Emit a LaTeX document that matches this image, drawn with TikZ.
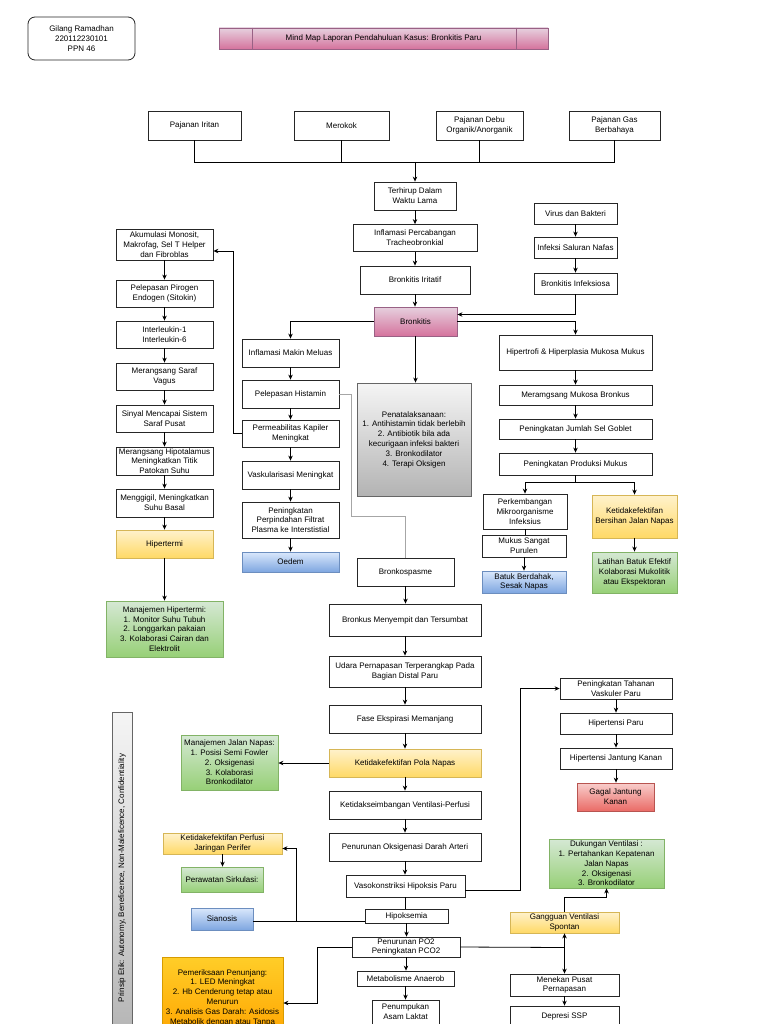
\documentclass[tikz,border=0pt]{standalone}
\usepackage{fontspec}
\setmainfont{Liberation Sans}
\usetikzlibrary{arrows.meta}
\definecolor{yelT}{HTML}{FFF2CC}
\definecolor{yelB}{HTML}{FFD966}
\definecolor{yelD}{HTML}{D6B656}
\definecolor{grnT}{HTML}{D5E8D4}
\definecolor{grnB}{HTML}{97D077}
\definecolor{grnD}{HTML}{82B366}
\definecolor{bluT}{HTML}{DAE8FC}
\definecolor{bluB}{HTML}{7EA6E0}
\definecolor{bluD}{HTML}{6C8EBF}
\definecolor{redT}{HTML}{F8CECC}
\definecolor{redB}{HTML}{EA6B66}
\definecolor{redD}{HTML}{B85450}
\definecolor{gryT}{HTML}{F5F5F5}
\definecolor{gryB}{HTML}{B3B3B3}
\definecolor{gryD}{HTML}{666666}
\definecolor{pnkT}{HTML}{E6D0DE}
\definecolor{pnkB}{HTML}{D5739D}
\definecolor{pnkD}{HTML}{996185}
\definecolor{orgT}{HTML}{FFCD28}
\definecolor{orgB}{HTML}{FFA500}
\definecolor{orgD}{HTML}{D79B00}
\newcommand{\mmfont}{\fontsize{8}{9.8}\selectfont}

\begin{document}
\begin{tikzpicture}[x=1pt,y=-1pt,
    box/.style={draw=black!85,line width=0.8pt,fill=white,align=center,inner sep=1pt,font=\mmfont},
    wh/.style 2 args={minimum width=#1pt,minimum height=#2pt},
    yelbox/.style={box,draw=yelD,top color=yelT,bottom color=yelB},
    grnbox/.style={box,draw=grnD,top color=grnT,bottom color=grnB},
    blubox/.style={box,draw=bluD,top color=bluT,bottom color=bluB},
    redbox/.style={box,draw=redD,top color=redT,bottom color=redB},
    grybox/.style={box,draw=gryD,top color=gryT,bottom color=gryB},
    pnkbox/.style={box,draw=pnkD,top color=pnkT,bottom color=pnkB},
    orgbox/.style={box,draw=orgD,top color=orgT,bottom color=orgB},
    conn/.style={line width=0.8pt},
    arr/.style={conn,-{Stealth[length=5pt,width=4.5pt]}}]
  \useasboundingbox (0,0) rectangle (768,1024);
  \clip (0,0) rectangle (768,1024);
  \fill[white] (0,0) rectangle (768,1024);

  % header
  \node[box,wh={107}{43},rounded corners=7pt] (nama) at (81.5,38.5) {Gilang Ramadhan\\220112230101\\PPN 46};
  \node[pnkbox,wh={329}{21}] (judul) at (383.5,38.5) {Mind Map Laporan Pendahuluan Kasus: Bronkitis Paru};
  \draw[pnkD,line width=0.8pt] ([xshift=34pt]judul.north west) -- ([xshift=34pt]judul.south west);
  \draw[pnkD,line width=0.8pt] ([xshift=-32pt]judul.north east) -- ([xshift=-32pt]judul.south east);

  % penyebab
  \node[box,wh={93}{29}] (iritan) at (194.5,125.5) {Pajanan Iritan};
  \node[box,wh={95}{29}] (rokok) at (341.5,125.5) {Merokok};
  \node[box,wh={87}{29}] (debu) at (479.5,125.5) {Pajanan Debu\\Organik/Anorganik};
  \node[box,wh={91}{29}] (gas) at (614.5,125.5) {Pajanan Gas\\Berbahaya};
  \coordinate (bus) at (415,162);

  % kolom tengah atas
  \node[box,wh={82}{28}] (terhirup) at (415,196) {Terhirup Dalam\\Waktu Lama};
  \node[box,wh={124}{27}] (ipt) at (415,238) {Inflamasi Percabangan\\Tracheobronkial};
  \node[box,wh={110}{28}] (iritatif) at (415,280) {Bronkitis Iritatif};
  \node[pnkbox,wh={83}{29}] (bronkitis) at (415.5,321.5) {Bronkitis};
  \node[grybox,wh={114}{113}] (tata) at (414,439.5) {Penatalaksanaan:\\1. Antihistamin tidak berlebih\\2. Antibiotik bila ada\\kecurigaan infeksi bakteri\\3. Bronkodilator\\4. Terapi Oksigen};

  % kolom kiri
  \node[box,wh={97}{31}] (akumulasi) at (164.5,244.5) {Akumulasi Monosit,\\Makrofag, Sel T Helper\\dan Fibroblas};
  \node[box,wh={97}{27}] (pirogen) at (164.5,293.5) {Pelepasan Pirogen\\Endogen (Sitokin)};
  \node[box,wh={97}{27}] (inter) at (164.5,334.5) {Interleukin-1\\Interleukin-6};
  \node[box,wh={97}{27}] (vagus) at (164.5,376.5) {Merangsang Saraf\\Vagus};
  \node[box,wh={97}{27}] (sinyal) at (164.5,418.5) {Sinyal Mencapai Sistem\\Saraf Pusat};
  \node[box,wh={97}{28}] (hipotal) at (164.5,461) {Merangsang Hipotalamus\\Meningkatkan Titik\\Patokan Suhu};
  \node[box,wh={97}{28}] (gigil) at (164.5,503) {Menggigil, Meningkatkan\\Suhu Basal};
  \node[yelbox,wh={97}{28}] (hipertermi) at (164.5,544) {Hipertermi};
  \node[grnbox,wh={117}{56}] (manhip) at (164.5,629) {Manajemen Hipertermi:\\1. Monitor Suhu Tubuh\\2. Longgarkan pakaian\\3. Kolaborasi Cairan dan\\Elektrolit};

  % kolom tengah kiri
  \node[box,wh={97}{28}] (meluas) at (290.5,353) {Inflamasi Makin Meluas};
  \node[box,wh={97}{28}] (histamin) at (290.5,394) {Pelepasan Histamin};
  \node[box,wh={97}{27}] (permea) at (290.5,433.5) {Permeabilitas Kapiler\\Meningkat};
  \node[box,wh={97}{28}] (vaskul) at (290.5,475) {Vaskularisasi Meningkat};
  \node[box,wh={97}{36}] (pindah) at (290.5,520) {Peningkatan\\Perpindahan Filtrat\\Plasma ke Interstistial};
  \node[blubox,wh={97}{20}] (oedem) at (290.5,562) {Oedem};

  % kolom kanan
  \node[box,wh={83}{21}] (virus) at (575.5,213.5) {Virus dan Bakteri};
  \node[box,wh={83}{21}] (infeksi) at (575.5,247.5) {Infeksi Saluran Nafas};
  \node[box,wh={83}{21}] (infeksiosa) at (575.5,283.5) {Bronkitis Infeksiosa};
  \node[box,wh={153}{35}] (hipertrofi) at (575.5,352.5) {Hipertrofi \& Hiperplasia Mukosa Mukus};
  \node[box,wh={153}{20}] (meramg) at (575.5,395) {Meramgsang Mukosa Bronkus};
  \node[box,wh={153}{20}] (goblet) at (575.5,429) {Peningkatan Jumlah Sel Goblet};
  \node[box,wh={153}{22}] (produksi) at (575.5,464) {Peningkatan Produksi Mukus};
  \node[box,wh={84}{35}] (kembang) at (525,511.5) {Perkembangan\\Mikroorganisme\\Infeksius};
  \node[box,wh={84}{22}] (purulen) at (524,546) {Mukus Sangat\\Purulen};
  \node[blubox,wh={84}{22}] (batuk) at (524,582) {Batuk Berdahak,\\Sesak Napas};
  \node[yelbox,wh={85}{43}] (bersihan) at (634.5,516.5) {Ketidakefektifan\\Bersihan Jalan Napas};
  \node[grnbox,wh={85}{41}] (latihan) at (634.5,572.5) {Latihan Batuk Efektif\\Kolaborasi Mukolitik\\atau Ekspektoran};
  \coordinate (cabang) at (575.5,482);

  % kolom tengah bawah
  \node[box,wh={97}{28}] (spasme) at (405.5,572) {Bronkospasme};
  \node[box,wh={152}{32}] (sempit) at (405,620) {Bronkus Menyempit dan Tersumbat};
  \node[box,wh={152}{31}] (udara) at (405,671.5) {Udara Pernapasan Terperangkap Pada\\Bagian Distal Paru};
  \node[box,wh={152}{28}] (fase) at (405,719) {Fase Ekspirasi Memanjang};
  \node[yelbox,wh={152}{28}] (pola) at (405,763) {Ketidakefektifan Pola Napas};
  \node[box,wh={152}{28}] (seimbang) at (405,805) {Ketidakseimbangan Ventilasi-Perfusi};
  \node[box,wh={152}{28}] (oksi) at (405,847) {Penurunan Oksigenasi Darah Arteri};
  \node[box,wh={119}{22}] (vaso) at (405.5,886) {Vasokonstriksi Hipoksis Paru};
  \node[box,wh={83}{14}] (hipo) at (406.5,916) {Hipoksemia};
  \node[box,wh={108}{20}] (po2) at (406,947) {Penurunan PO2\\Peningkatan PCO2};
  \node[box,wh={97}{15}] (anaerob) at (405.5,978.5) {Metabolisme Anaerob};
  \node[box,wh={67}{24}] (laktat) at (405.5,1012) {Penumpukan\\Asam Laktat};

  % kiri bawah
  \node[grybox,rotate=90,wh={332}{20}] (etik) at (122,878) {Prinsip Etik: Autonomy, Beneficence, Non-Maleficence, Confidentiality};
  \node[grnbox,wh={97}{55}] (manjn) at (229.5,762.5) {Manajemen Jalan Napas:\\1. Posisi Semi Fowler\\2. Oksigenasi\\3. Kolaborasi\\Bronkodilator};
  \node[yelbox,wh={119}{21}] (perfusi) at (222.5,843.5) {Ketidakefektifan Perfusi\\Jaringan Perifer};
  \node[grnbox,wh={82}{25}] (rawat) at (222,879.5) {Perawatan Sirkulasi:};
  \node[blubox,wh={62}{22}] (sianosis) at (222,919) {Sianosis};
  \node[orgbox,wh={121}{81}] (periksa) at (222.5,997.5) {Pemeriksaan Penunjang:\\1. LED Meningkat\\2. Hb Cenderung tetap atau\\Menurun\\3. Analisis Gas Darah: Asidosis\\Metabolik dengan atau Tanpa};
  \coordinate (sj) at (296,921);
  \coordinate (pj) at (317,1003);

  % kanan bawah
  \node[box,wh={112}{21}] (tahanan) at (616,688.5) {Peningkatan Tahanan\\Vaskuler Paru};
  \node[box,wh={112}{21}] (hparu) at (616,723.5) {Hipertensi Paru};
  \node[box,wh={112}{21}] (hjantung) at (616,758.5) {Hipertensi Jantung Kanan};
  \node[redbox,wh={77}{28}] (gagal) at (615.5,797) {Gagal Jantung\\Kanan};
  \node[grnbox,wh={115}{49}] (dukung) at (606.5,863.5) {Dukungan Ventilasi :\\1. Pertahankan Kepatenan\\Jalan Napas\\2. Oksigenasi\\3. Bronkodilator};
  \node[yelbox,wh={109}{21}] (gangguan) at (564.5,922.5) {Gangguan Ventilasi\\Spontan};
  \node[box,wh={109}{22}] (menekan) at (564.5,985) {Menekan Pusat\\Pernapasan};
  \node[box,wh={109}{20}] (depresi) at (564.5,1016) {Depresi SSP};
  \coordinate (vt) at (520,890);
  \coordinate (gj) at (564.5,947.5);

  % penghubung
  \draw[conn] (iritan.south) |- (gas.south |- bus) -- (gas.south);
  \foreach \n in {rokok,debu}
    \draw[conn] (\n.south) -- (\n.south |- bus);
  \draw[arr] (bus) -- (terhirup.north);
  \foreach \a/\b in {terhirup/ipt,ipt/iritatif,iritatif/bronkitis,bronkitis/tata,
      akumulasi/pirogen,pirogen/inter,inter/vagus,vagus/sinyal,sinyal/hipotal,hipotal/gigil,gigil/hipertermi,hipertermi/manhip,
      meluas/histamin,histamin/permea,permea/vaskul,vaskul/pindah,pindah/oedem,
      virus/infeksi,infeksi/infeksiosa,hipertrofi/meramg,meramg/goblet,goblet/produksi,purulen/batuk,bersihan/latihan,
      spasme/sempit,sempit/udara,udara/fase,fase/pola,pola/seimbang,seimbang/oksi,oksi/vaso,hipo/po2,po2/anaerob,anaerob/laktat,
      tahanan/hparu,hparu/hjantung,hjantung/gagal,perfusi/rawat,menekan/depresi}
    \draw[arr] (\a.south) -- (\a.south |- \b.north);
  \draw[conn] (vaso.south) -- (vaso.south |- hipo.north);
  \draw[conn] (kembang.south) -- (kembang.south |- purulen.north);
  \draw[arr] (infeksiosa.south) |- ([yshift=7pt]bronkitis.east);
  \draw[arr] (bronkitis.east) -| (hipertrofi.north);
  \draw[arr] (bronkitis.west) -| (meluas.north);
  \draw[arr] (permea.west) -- ++(-8,0) |- ([yshift=-6.5pt]akumulasi.east);
  \draw[gray!70,line width=0.6pt] (histamin.east) -| (351,516) -| (spasme.north);
  \draw[conn] (produksi.south) -- (cabang);
  \draw[arr] (cabang) -| (kembang.north);
  \draw[arr] (cabang) -| (bersihan.north);
  \draw[arr] (pola.west) -- (pola.west -| manjn.east);
  \draw[conn] (hipo.west |- sj) -- (sianosis.east |- sj);
  \draw[arr] (sj) |- ([yshift=-5pt]perfusi.east);
  \draw[arr] (po2.west) -| (pj) -- (periksa.east |- pj);
  \draw[arr] (vaso.east |- vt) -- (vt) |- (tahanan.west);
  \draw[conn] (po2.east) -- (gj);
  \draw[arr] (gj) -- (gangguan.south);
  \draw[arr] (gj) -- (menekan.north);
  \draw[arr] (gangguan.north) -- ++(0,-14) -| (dukung.south);
\end{tikzpicture}
\end{document}
